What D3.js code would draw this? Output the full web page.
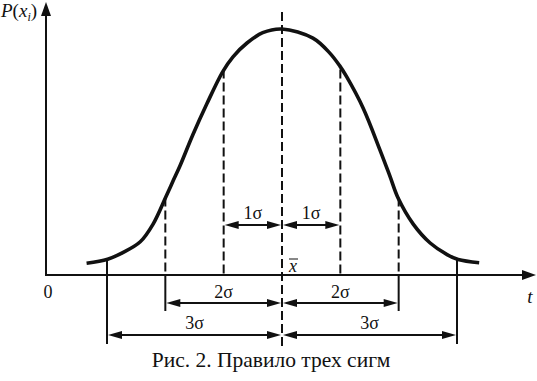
<!DOCTYPE html>
<html>
<head>
<meta charset="utf-8">
<script src="https://cdn.jsdelivr.net/npm/d3@7"></script>
<style>
  body { margin: 0; background: #fff; }
</style>
</head>
<body>
<svg id="chart" width="537" height="381"></svg>
<script>
// curve, x in sigma units, y relative to the peak
var curveX = [-3.35, -2.99, -2.73, -2.43, -2.21, -1.99, -1.87, -1.75, -1.53, -1.29, -1.02, -0.84, -0.6, -0.33, 0,
              0.53, 0.82, 0.99, 1.11, 1.39, 1.68, 1.85, 1.99, 2.25, 2.54, 2.83, 3.02, 3.38];
var curveY = [0.048, 0.064, 0.091, 0.135, 0.207, 0.318, 0.381, 0.443, 0.569, 0.695, 0.825, 0.887, 0.943, 0.985, 1.0,
              0.963, 0.902, 0.85, 0.805, 0.679, 0.508, 0.402, 0.313, 0.207, 0.13, 0.083, 0.063, 0.05];

var sigmas      = [1, 2, 3];
var sigmaLabels = ["1σ", "2σ", "3σ"];
var sigmaHeight = [0.835, 0.315, 0.063];   // curve height where each marker stops

var yLabel  = "P", ySub = "i";
var xLabel  = "t";
var zeroLbl = "0";
var meanLbl = "x";
var caption = "Рис. 2. Правило трех сигм";

var serif = "'Liberation Serif', 'Times New Roman', 'DejaVu Serif', serif";
var svg = d3.select("#chart");
var ink = "#111";

var x = d3.scaleLinear().domain([-3, 3]).range([107, 457]);
var y = d3.scaleLinear().domain([0, 1]).range([275, 29]);

var x0 = 46, axisTop = 2, axisRight = 536;

// axes
svg.append("line").attr("x1", x0).attr("x2", x0).attr("y1", y(0) + 1).attr("y2", axisTop + 10)
  .attr("stroke", ink).attr("stroke-width", 2);
svg.append("line").attr("x1", x0 - 1).attr("x2", axisRight - 12).attr("y1", y(0)).attr("y2", y(0))
  .attr("stroke", ink).attr("stroke-width", 2);

function arrowHead(tx, ty, dir, len, hw){
  var p;
  if (dir == "up")    p = [[tx, ty], [tx - hw, ty + len], [tx + hw, ty + len]];
  if (dir == "right") p = [[tx, ty], [tx - len, ty - hw], [tx - len, ty + hw]];
  if (dir == "left")  p = [[tx, ty], [tx + len, ty - hw], [tx + len, ty + hw]];
  svg.append("path").attr("d", "M" + p.join("L") + "Z").attr("fill", ink);
}
arrowHead(x0, axisTop, "up", 14, 5);
arrowHead(axisRight, y(0), "right", 14, 5);

// curve
var pts = curveX.map(function(d, i){ return [d, curveY[i]]; });
var line = d3.line()
  .curve(d3.curveCatmullRom.alpha(0.5))
  .x(function(d){ return x(d[0]); })
  .y(function(d){ return y(d[1]); });
svg.append("path").datum(pts).attr("d", line)
  .attr("fill", "none").attr("stroke", ink).attr("stroke-width", 3.6);

// rows of the sigma arrows
var rowY = [225, 303, 335];
var rowBottom = [null, 311, 344];
var labelGap = [6, 5, 6];

// center dashed line
svg.append("line").attr("x1", x(0)).attr("x2", x(0)).attr("y1", 12).attr("y2", 346)
  .attr("stroke", ink).attr("stroke-width", 2).attr("stroke-dasharray", "9,4");

sigmas.forEach(function(s, i){
  [-1, 1].forEach(function(side){
    var xs = x(side * s);
    // dashed from the curve down to the axis
    svg.append("line").attr("x1", xs).attr("x2", xs)
      .attr("y1", y(sigmaHeight[i])).attr("y2", y(0))
      .attr("stroke", ink).attr("stroke-width", 2)
      .attr("stroke-dasharray", i == 2 ? null : "9,4");
    // solid below the axis
    if (rowBottom[i]) {
      svg.append("line").attr("x1", xs).attr("x2", xs)
        .attr("y1", y(0)).attr("y2", rowBottom[i])
        .attr("stroke", ink).attr("stroke-width", 2);
    }
    // double arrow between the mean and the marker
    var a = Math.min(xs, x(0)), b = Math.max(xs, x(0));
    svg.append("line").attr("x1", a + 6).attr("x2", b - 6).attr("y1", rowY[i]).attr("y2", rowY[i])
      .attr("stroke", ink).attr("stroke-width", 1.8);
    arrowHead(a + 1, rowY[i], "left", 14, 4);
    arrowHead(b - 1, rowY[i], "right", 14, 4);
    svg.append("text")
      .attr("x", (a + b) / 2).attr("y", rowY[i] - labelGap[i])
      .attr("text-anchor", "middle").attr("font-size", 18)
      .attr("font-family", serif).attr("fill", ink)
      .text(sigmaLabels[i]);
  });
});

// labels
var py = svg.append("text").attr("x", 1).attr("y", 17).attr("font-size", 19)
  .attr("font-family", serif).attr("fill", ink);
py.append("tspan").attr("font-style", "italic").text(yLabel);
py.append("tspan").text("(");
py.append("tspan").attr("font-style", "italic").text("x");
py.append("tspan").attr("font-style", "italic").attr("font-size", 12).attr("dy", 4).text(ySub);
py.append("tspan").attr("dy", -4).text(")");

svg.append("text").attr("x", x0 + 2).attr("y", 298).attr("text-anchor", "middle")
  .attr("font-size", 18).attr("font-family", serif).attr("fill", ink).text(zeroLbl);
svg.append("text").attr("x", 530).attr("y", 303).attr("text-anchor", "middle")
  .attr("font-size", 19).attr("font-style", "italic").attr("font-family", serif).attr("fill", ink).text(xLabel);

svg.append("text").attr("x", x(0) + 11).attr("y", 272).attr("text-anchor", "middle")
  .attr("font-size", 18).attr("font-style", "italic").attr("font-family", serif).attr("fill", ink).text(meanLbl);
svg.append("line").attr("x1", x(0) + 7).attr("x2", x(0) + 16).attr("y1", 259).attr("y2", 259)
  .attr("stroke", ink).attr("stroke-width", 1);

svg.append("text").attr("x", 271).attr("y", 367).attr("text-anchor", "middle")
  .attr("font-size", 21.5).attr("font-family", serif).attr("fill", ink).text(caption);
</script>
</body>
</html>
